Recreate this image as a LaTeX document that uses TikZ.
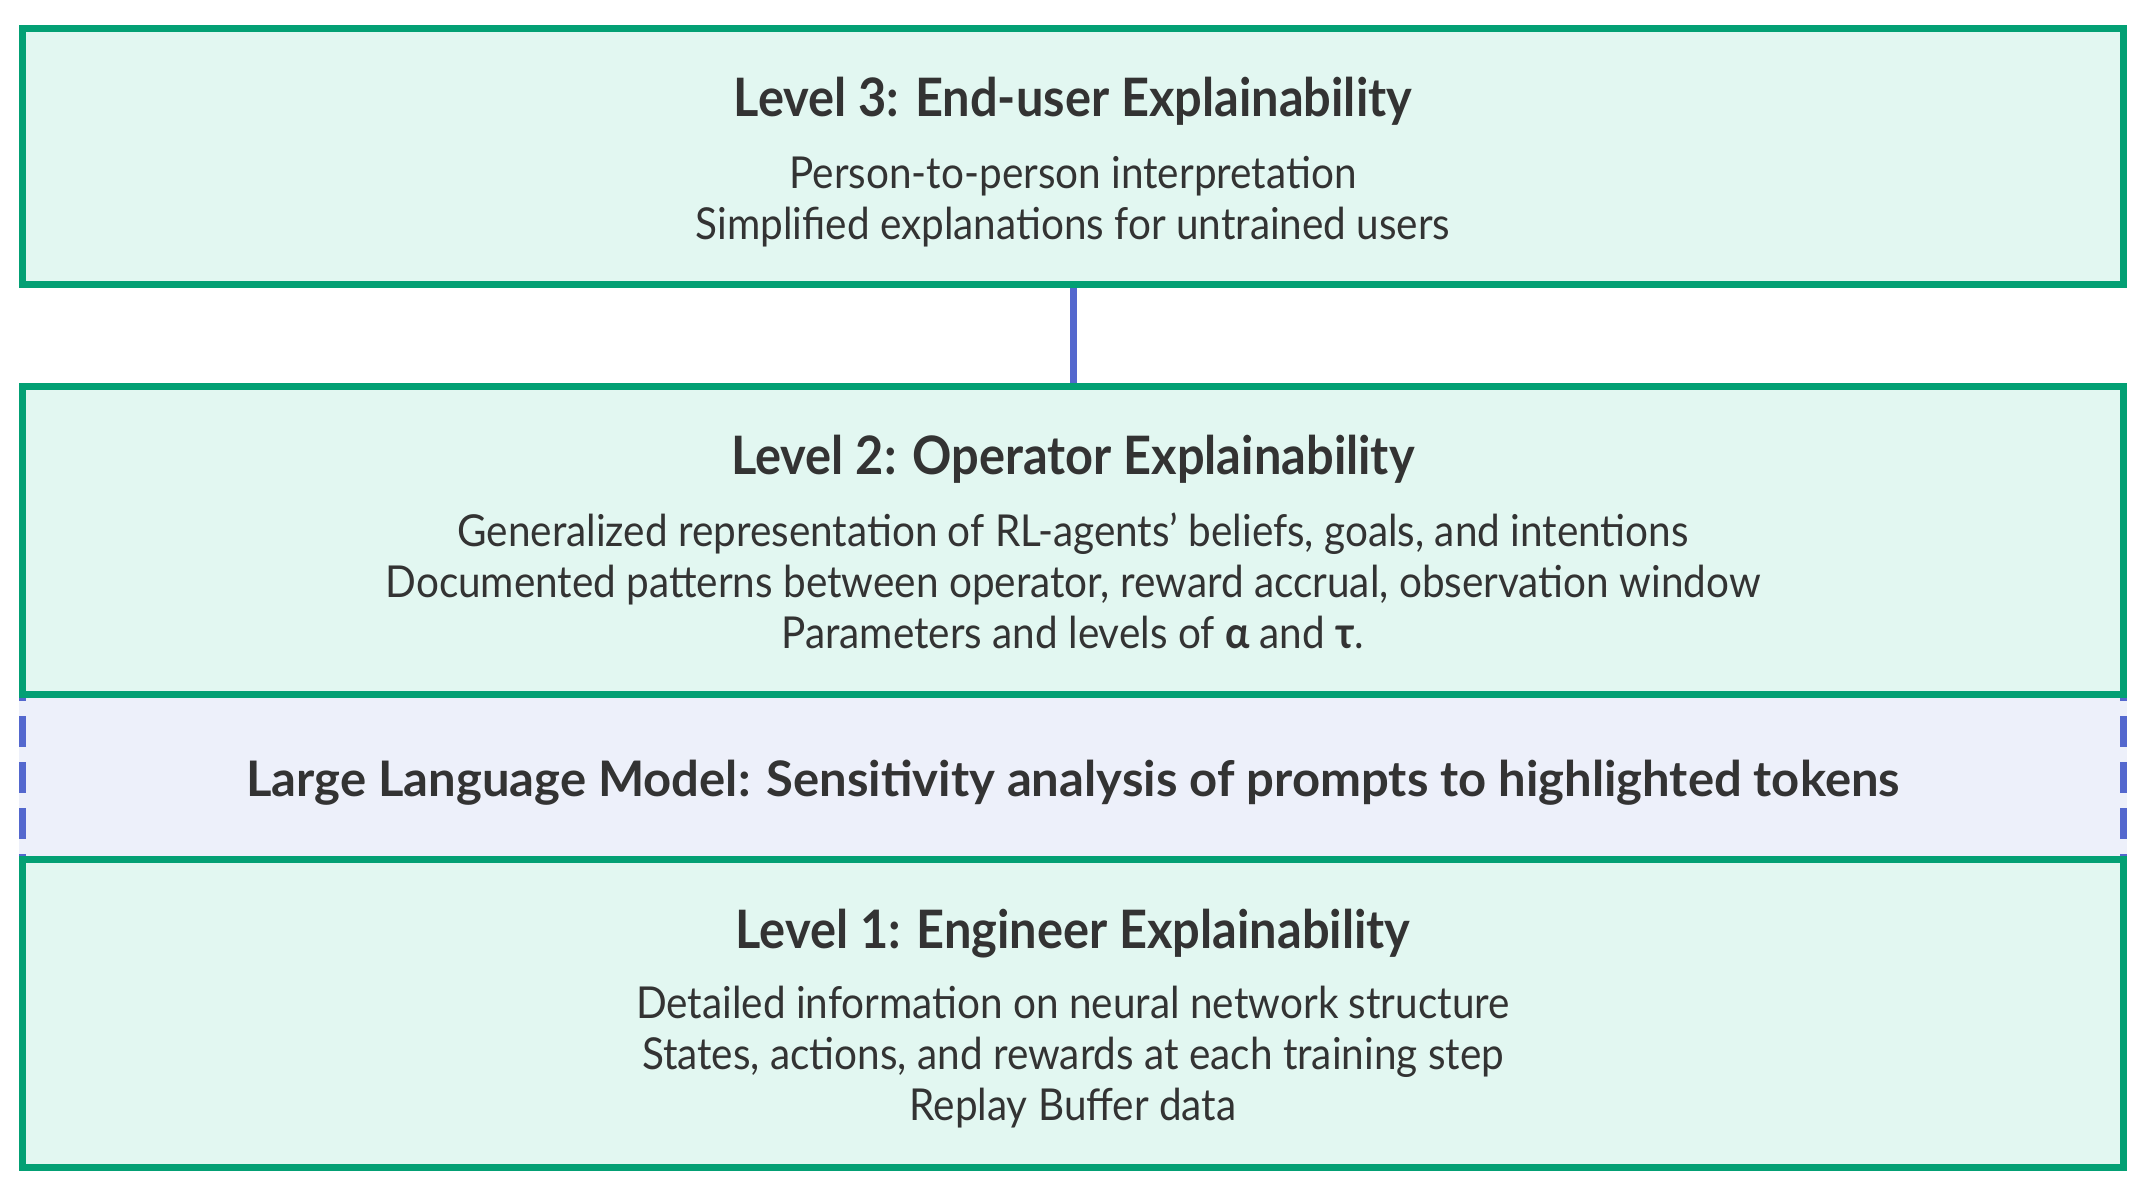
\documentclass[tikz,border=0pt]{standalone}
\usepackage{fontspec}
\setmainfont{Lato}
\newfontfamily\titlefont{Lato}[FakeStretch=0.92]
\newfontfamily\bodyfont{Lato}[FakeStretch=0.92]
\newfontfamily\llmfont{Lato}
\definecolor{boxgreen}{RGB}{3,160,116}
\definecolor{boxfill}{RGB}{226,247,241}
\definecolor{linkblue}{RGB}{84,104,206}
\definecolor{bandfill}{RGB}{237,240,250}
\definecolor{txt}{RGB}{51,51,51}
\tikzset{
  levelbox/.style={draw=boxgreen, fill=boxfill, line width=7pt, minimum width=2101pt, inner sep=0pt},
  band/.style={fill=bandfill, draw=none, minimum width=2108pt, minimum height=158pt, inner sep=0pt},
  ttl/.style={anchor=base, text=txt, inner sep=0pt, font=\titlefont\bfseries\fontsize{53}{62}\selectfont},
  bodytxt/.style={anchor=base, text=txt, inner sep=0pt, font=\bodyfont\fontsize{44}{52}\selectfont},
  llmtxt/.style={anchor=base, text=txt, inner sep=0pt, font=\llmfont\bfseries\fontsize{49}{58}\selectfont},
  link/.style={draw=linkblue, line width=7pt},
  bandside/.style={draw=linkblue, line width=7pt, dash pattern=on 31pt off 15pt, dash phase=28pt}
}
\begin{document}
\begin{tikzpicture}[x=1pt,y=-1pt]
\useasboundingbox (0,0) rectangle (2147,1187);
% band
\node[band] (llm) at (1073,777) {};
\coordinate (bl1) at (22.5,698);
\coordinate (bl2) at (22.5,856);
\coordinate (br1) at (2123.5,698);
\coordinate (br2) at (2123.5,856);
\draw[bandside] (bl1) -- (bl2);
\draw[bandside] (br1) -- (br2);
% boxes
\node[levelbox, minimum height=256pt] (l3) at (1073,156.5) {};
\node[levelbox, minimum height=308pt] (l2) at (1073,540.5) {};
\node[levelbox, minimum height=308pt] (l1) at (1073,1013.5) {};
\draw[link] (l3.south) -- (l2.north);
% texts
\node[ttl] (t3) at (1073,116) {Level 3: End-user Explainability};
\node[bodytxt] (t3a) at (1073,188.5) {Person-to-person interpretation};
\node[bodytxt] (t3b) at (1073,239.5) {Simplified explanations for untrained users};
\node[ttl] (t2) at (1073,474) {Level 2: Operator Explainability};
\node[bodytxt] (t2a) at (1073,546.5) {Generalized representation of RL-agents’ beliefs, goals, and intentions};
\node[bodytxt] (t2b) at (1073,597.5) {Documented patterns between operator, reward accrual, observation window};
\node[bodytxt] (t2c) at (1073,648.5) {Parameters and levels of \textbf{α} and \textbf{τ}.};
\node[llmtxt] (tl) at (1073,796) {Large Language Model: Sensitivity analysis of prompts to highlighted tokens};
\node[ttl] (t1) at (1073,948) {Level 1: Engineer Explainability};
\node[bodytxt] (t1a) at (1073,1018.5) {Detailed information on neural network structure};
\node[bodytxt] (t1b) at (1073,1069.5) {States, actions, and rewards at each training step};
\node[bodytxt] (t1c) at (1073,1120.5) {Replay Buffer data};
\end{tikzpicture}
\end{document}
